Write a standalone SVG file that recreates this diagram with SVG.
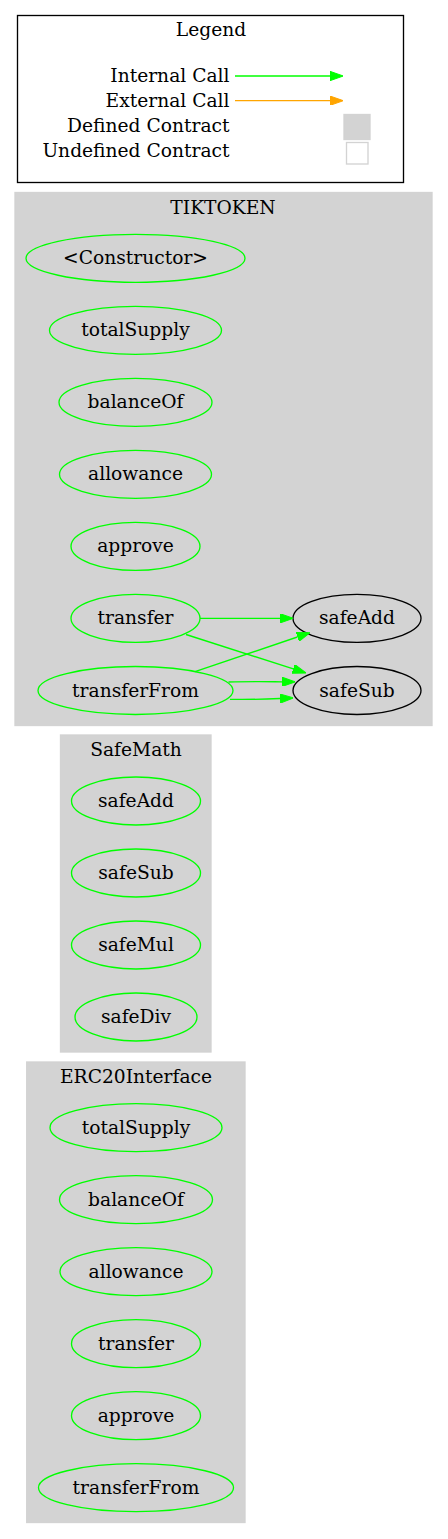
<svg xmlns="http://www.w3.org/2000/svg" width="448" height="1539" viewBox="0 0 448 1539">
<style>
text{font-family:"DejaVu Serif","Liberation Serif",serif;font-size:18.67px;fill:#000}
.c{text-anchor:middle}
.r{text-anchor:end}
.cl{fill:#d3d3d3;stroke:#d3d3d3;stroke-width:1.33}
.fn{fill:none;stroke:#00ff00;stroke-width:1.33}
.ext{fill:none;stroke:#000;stroke-width:1.33}
.e{fill:none;stroke:#00ff00;stroke-width:1.33}
</style>
<defs>
<marker id="ag" viewBox="0 0 13.33 9.33" refX="0" refY="4.67" markerWidth="13.33" markerHeight="9.33" markerUnits="userSpaceOnUse" orient="auto"><path d="M0,0 L13.33,4.67 L0,9.33 z" fill="#00ff00" stroke="#00ff00" stroke-width="1"/></marker>
<marker id="ao" viewBox="0 0 13.33 9.33" refX="0" refY="4.67" markerWidth="13.33" markerHeight="9.33" markerUnits="userSpaceOnUse" orient="auto"><path d="M0,0 L13.33,4.67 L0,9.33 z" fill="#ffa500" stroke="#ffa500" stroke-width="1"/></marker>
</defs>
<rect width="448" height="1539" fill="#fff"/>
<g id="legend">
<rect x="17.5" y="15.5" width="386" height="167" fill="#fff" stroke="#000" stroke-width="1.33"/>
<text class="c" x="211" y="35.7">Legend</text>
<text class="r" x="229.5" y="81.7">Internal Call</text>
<path d="M235,76 L330,76" fill="none" stroke="#00ff00" stroke-width="1.33" marker-end="url(#ag)"/>
<text class="r" x="229.5" y="106.7">External Call</text>
<path d="M235,100.7 L330,100.7" fill="none" stroke="#ffa500" stroke-width="1.33" marker-end="url(#ao)"/>
<text class="r" x="229.5" y="131.7">Defined Contract</text>
<rect x="344" y="114.5" width="26" height="25" fill="#d3d3d3" stroke="#d3d3d3" stroke-width="1.33"/>
<text class="r" x="229.5" y="157.3">Undefined Contract</text>
<rect x="346.5" y="142.5" width="21.5" height="21.5" fill="#fff" stroke="#d3d3d3" stroke-width="1.33"/>
</g>
<g id="cluster_TIKTOKEN">
<rect class="cl" x="15" y="192.5" width="417" height="533"/>
<text class="c" x="223" y="214.3">TIKTOKEN</text>
</g>
<g id="cluster_SafeMath">
<rect class="cl" x="60.5" y="735" width="150.5" height="317"/>
<text class="c" x="136" y="756">SafeMath</text>
</g>
<g id="cluster_ERC20Interface">
<rect class="cl" x="26.7" y="1062" width="218.3" height="460.5"/>
<text class="c" x="136" y="1083">ERC20Interface</text>
</g>
<g id="TIKTOKEN_constructor"><ellipse class="fn" cx="135.5" cy="258.3" rx="109.5" ry="24"/><text class="c" x="135.5" y="264.3">&lt;Constructor&gt;</text></g>
<g id="TIKTOKEN_totalSupply"><ellipse class="fn" cx="135.5" cy="330.3" rx="86" ry="24"/><text class="c" x="135.5" y="336.3">totalSupply</text></g>
<g id="TIKTOKEN_balanceOf"><ellipse class="fn" cx="135.5" cy="402.3" rx="76.5" ry="24"/><text class="c" x="135.5" y="408.3">balanceOf</text></g>
<g id="TIKTOKEN_allowance"><ellipse class="fn" cx="135.5" cy="474.3" rx="76" ry="24"/><text class="c" x="135.5" y="480.3">allowance</text></g>
<g id="TIKTOKEN_approve"><ellipse class="fn" cx="135.5" cy="546.3" rx="64.5" ry="24"/><text class="c" x="135.5" y="552.3">approve</text></g>
<g id="TIKTOKEN_transfer"><ellipse class="fn" cx="135.5" cy="618.3" rx="64.5" ry="24"/><text class="c" x="135.5" y="624.3">transfer</text></g>
<g id="TIKTOKEN_transferFrom"><ellipse class="fn" cx="135.5" cy="690.5" rx="97.5" ry="24"/><text class="c" x="135.5" y="696.5">transferFrom</text></g>
<g id="TIKTOKEN_safeAdd"><ellipse class="ext" cx="357" cy="618.3" rx="64" ry="24"/><text class="c" x="357" y="624.3">safeAdd</text></g>
<g id="TIKTOKEN_safeSub"><ellipse class="ext" cx="357" cy="690.5" rx="64" ry="24"/><text class="c" x="357" y="696.5">safeSub</text></g>
<g id="SafeMath_safeAdd"><ellipse class="fn" cx="136" cy="801" rx="64.5" ry="24"/><text class="c" x="136" y="807">safeAdd</text></g>
<g id="SafeMath_safeSub"><ellipse class="fn" cx="136" cy="873" rx="64.5" ry="24"/><text class="c" x="136" y="879">safeSub</text></g>
<g id="SafeMath_safeMul"><ellipse class="fn" cx="136" cy="945" rx="64.5" ry="24"/><text class="c" x="136" y="951">safeMul</text></g>
<g id="SafeMath_safeDiv"><ellipse class="fn" cx="136" cy="1017" rx="61" ry="24"/><text class="c" x="136" y="1023">safeDiv</text></g>
<g id="ERC20Interface_totalSupply"><ellipse class="fn" cx="136" cy="1127.7" rx="86" ry="24"/><text class="c" x="136" y="1133.7">totalSupply</text></g>
<g id="ERC20Interface_balanceOf"><ellipse class="fn" cx="136" cy="1199.7" rx="76.5" ry="24"/><text class="c" x="136" y="1205.7">balanceOf</text></g>
<g id="ERC20Interface_allowance"><ellipse class="fn" cx="136" cy="1271.7" rx="76" ry="24"/><text class="c" x="136" y="1277.7">allowance</text></g>
<g id="ERC20Interface_transfer"><ellipse class="fn" cx="136" cy="1343.7" rx="64.5" ry="24"/><text class="c" x="136" y="1349.7">transfer</text></g>
<g id="ERC20Interface_approve"><ellipse class="fn" cx="136" cy="1415.7" rx="64.5" ry="24"/><text class="c" x="136" y="1421.7">approve</text></g>
<g id="ERC20Interface_transferFrom"><ellipse class="fn" cx="136" cy="1487.7" rx="97.5" ry="24"/><text class="c" x="136" y="1493.7">transferFrom</text></g>
<g id="connectors">
<path class="e" d="M200,618.3 L280,618.3" marker-end="url(#ag)"/>
<path class="e" d="M186,634.5 L293.3,668.9" marker-end="url(#ag)"/>
<path class="e" d="M195,671.7 L297.4,637" marker-end="url(#ag)"/>
<path class="e" d="M228.5,682 C250,681.5 265,681.7 282,681.8" marker-end="url(#ag)"/>
<path class="e" d="M230,699.3 C250,699.6 265,699.2 280,698.5" marker-end="url(#ag)"/>
</g>
</svg>
